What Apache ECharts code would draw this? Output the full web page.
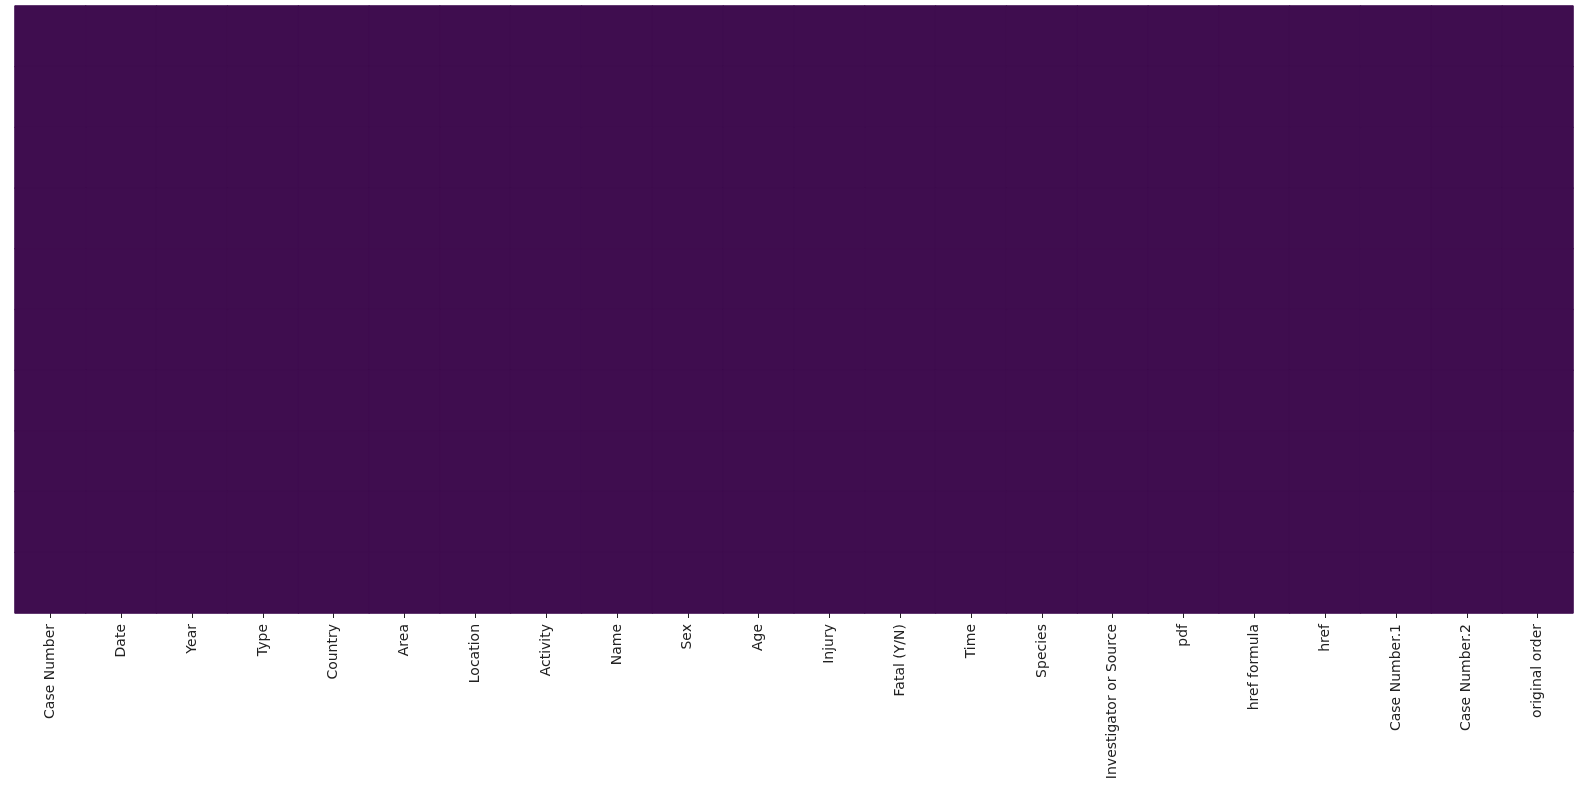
<!DOCTYPE html>
<html>
<head>
<meta charset="utf-8">
<script src="https://cdn.jsdelivr.net/npm/echarts@6/dist/echarts.min.js"></script>
<style>html,body{margin:0;padding:0;background:#fff}#c{width:1586px;height:792px}</style>
</head>
<body>
<div id="c"></div>
<script>
// Column names (x tick labels)
const columns = ['Case Number','Date','Year','Type','Country','Area','Location','Activity','Name','Sex','Age','Injury','Fatal (Y/N)','Time','Species','Investigator or Source','pdf','href formula','href','Case Number.1','Case Number.2','original order'];
// Row bands (no visible labels)
const rows = ['r0','r1','r2','r3','r4','r5','r6','r7','r8','r9'];
// isnull() flags per column for each row band: all 0 (no missing values)
const missing = [0,0,0,0,0,0,0,0,0,0,0,0,0,0,0,0,0,0,0,0,0,0];

const cellColor = '#3f0d4f';
const data = [];
rows.forEach((r, ri) => {
  missing.forEach((v, ci) => data.push([ci, ri, v]));
});

const chart = echarts.init(document.getElementById('c'));
chart.setOption({
  animation: false,
  grid: {left: 15, right: 13, top: 6, bottom: 179, containLabel: false},
  xAxis: {
    type: 'category',
    data: columns,
    axisLine: {show: false},
    axisTick: {show: true, alignWithLabel: true, length: 5, lineStyle: {color: '#222', width: 1}},
    axisLabel: {rotate: 90, interval: 0, margin: 11, fontSize: 14, color: '#222', fontFamily: 'DejaVu Sans'},
    splitLine: {show: false}
  },
  yAxis: {
    type: 'category',
    data: rows,
    inverse: true,
    axisLine: {show: false},
    axisTick: {show: false},
    axisLabel: {show: false},
    splitLine: {show: false}
  },
  visualMap: {
    show: false,
    min: 0,
    max: 1,
    dimension: 2,
    inRange: {color: [cellColor, '#fde725']}
  },
  series: [{
    type: 'heatmap',
    data: data,
    itemStyle: {borderWidth: 1, borderColor: cellColor},
    emphasis: {disabled: true}
  }]
});
</script>
</body>
</html>
